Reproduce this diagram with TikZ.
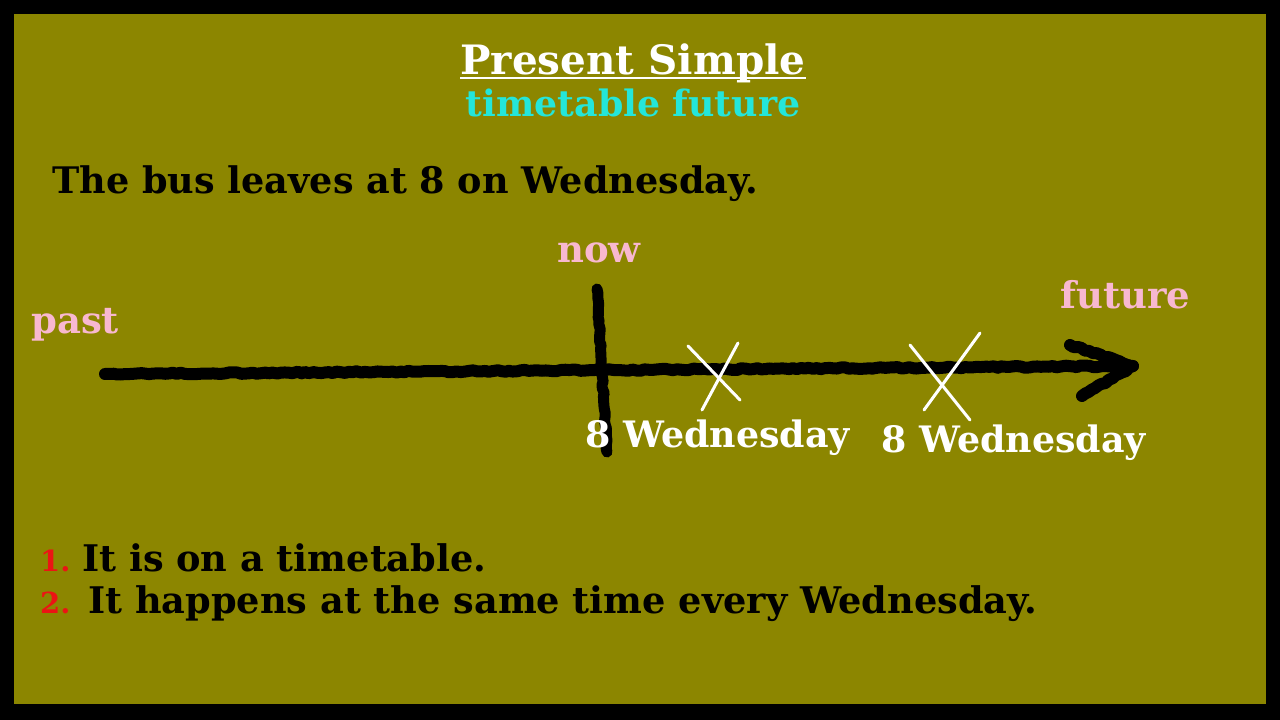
\documentclass[tikz,border=0pt]{standalone}
\usepackage{fontspec}
\setmainfont{DejaVu Serif}
\usetikzlibrary{decorations.pathmorphing}
\definecolor{olive}{RGB}{140,134,0}
\definecolor{pinkt}{RGB}{248,184,208}
\definecolor{cyant}{RGB}{36,230,218}
\definecolor{redt}{RGB}{235,20,20}
\tikzset{
  txt/.style={inner sep=0pt, anchor=base west, font=\bfseries\fontsize{#1}{#1}\selectfont},
  txt/.default=36,
  chalk/.style={line width=12pt, line cap=round, line join=round, black,
    decorate, decoration={random steps, segment length=4pt, amplitude=0.9pt}},
  xmark/.style={white, line width=3pt, line cap=round},
}
\begin{document}
\begin{tikzpicture}[x=1pt,y=-1pt]
\useasboundingbox (0,0) rectangle (1280,720);
\fill[black] (0,0) rectangle (1280,720);
\fill[olive] (14,14) rectangle (1266,704);
% title
\node[txt=40.5, anchor=base, white] (title) at (633,74) {Present Simple};
\draw[white, line width=2pt] ([yshift=-4pt]title.base west) -- ([yshift=-4pt]title.base east);
\node[txt=36.3, anchor=base, cyant] (sub) at (633,116) {timetable future};
% sentence
\node[txt=36.6] (sent) at (52,193) {The bus leaves at 8 on Wednesday.};
% labels
\node[txt=37, anchor=base, pinkt] (now) at (599,262) {now};
\node[txt=37, pinkt] (past) at (31,333) {past};
\node[txt=37, pinkt] (future) at (1060,308) {future};
% axis
\coordinate (a0) at (105,374);
\coordinate (a1) at (1133,366);
\coordinate (h1) at (1070,345);
\coordinate (h2) at (1082,396);
\coordinate (v0) at (597,289);
\coordinate (v1) at (607,452);
\draw[chalk] (a0) -- (a1);
\draw[chalk] (h1) -- (a1) -- (h2);
\draw[chalk, line width=11pt] (v0) -- (v1);
% x marks
\coordinate (x1a) at (688,346); \coordinate (x1b) at (740,400);
\coordinate (x1c) at (738,343); \coordinate (x1d) at (702,410);
\coordinate (x2a) at (910,345); \coordinate (x2b) at (970,420);
\coordinate (x2c) at (980,333); \coordinate (x2d) at (924,410);
\draw[xmark] (x1a) -- (x1b);
\draw[xmark] (x1c) -- (x1d);
\draw[xmark] (x2a) -- (x2b);
\draw[xmark] (x2c) -- (x2d);
% wednesday labels
\node[txt=36.4, white] (w1) at (585,447) {8 Wednesday};
\node[txt=36.4, white] (w2) at (881,452) {8 Wednesday};
% reasons
\node[txt=29, redt] (n1) at (40,571) {1.};
\node[txt=36.7] (r1) at (82,571) {It is on a timetable.};
\node[txt=29, redt] (n2) at (40,613) {2.};
\node[txt=36.7] (r2) at (88,613) {It happens at the same time every Wednesday.};
\end{tikzpicture}
\end{document}
